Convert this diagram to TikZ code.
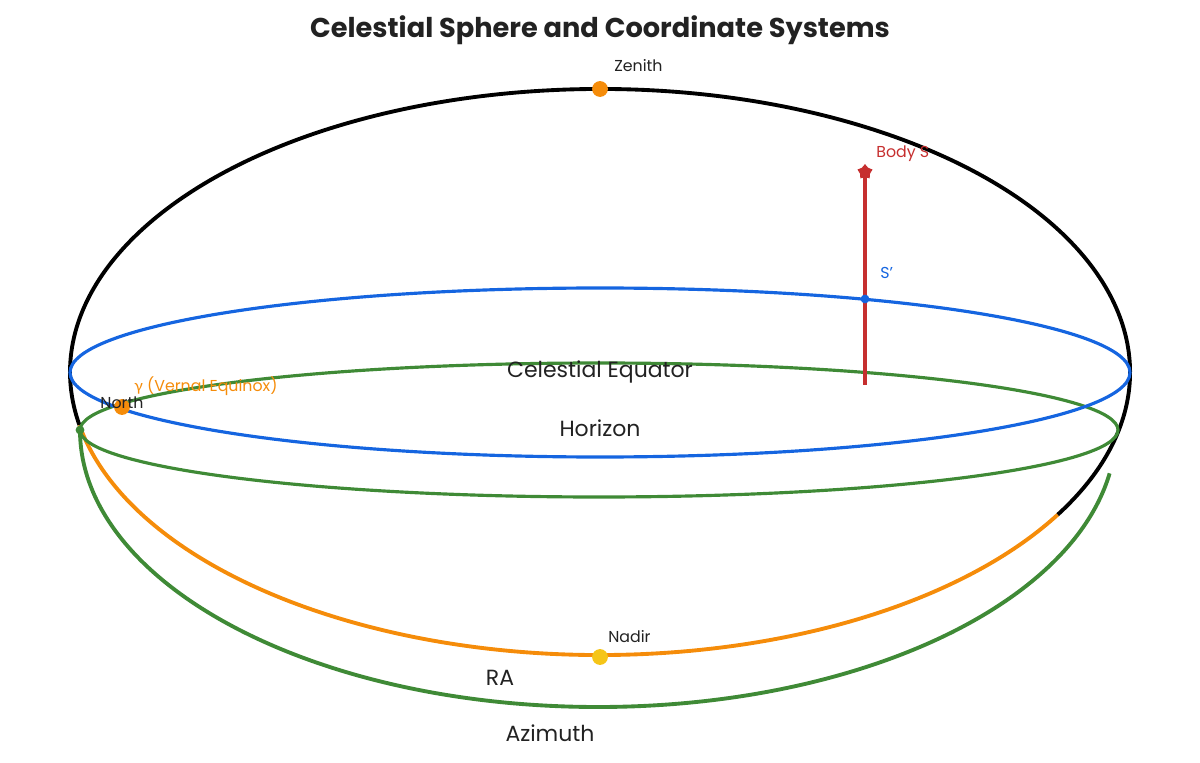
\documentclass[tikz,border=0pt]{standalone}
\usepackage{fontspec}
\setmainfont{Poppins}
\newfontfamily\greekfont{Lato}
\usetikzlibrary{shapes.geometric}
\definecolor{colblue}{HTML}{1565e0}
\definecolor{colgreen}{HTML}{3f8a36}
\definecolor{colorange}{HTML}{f58c0a}
\definecolor{colyellow}{HTML}{f5c518}
\definecolor{colred}{HTML}{c62f2f}
\definecolor{coltext}{HTML}{222222}
\tikzstyle{lbl} = [font=\fontsize{9}{11}\selectfont, text=coltext, inner sep=0pt]
\tikzstyle{big} = [font=\fontsize{12.5}{15}\selectfont, text=coltext, inner sep=0pt]
\tikzstyle{dot} = [circle, inner sep=0pt, minimum size=#1]
\tikzstyle{curve} = [line width=2.2pt]
\begin{document}
\begin{tikzpicture}[x=0.02cm, y=-0.02cm]
    \useasboundingbox (0,0) rectangle (1200,763);
    \node (title) [font=\fontsize{15.5}{18}\bfseries] at (600,30) {\textcolor{coltext}{Celestial Sphere and Coordinate Systems}};

    % sphere outline: upper part black, lower part orange
    \draw [curve, black] (600,372) ++(-30.3:530 and -283) arc [start angle=-30.3, end angle=190.8, x radius=530, y radius=-283];
    \draw [curve, colorange] (600,372) ++(190.8:530 and -283) arc [start angle=190.8, end angle=329.7, x radius=530, y radius=-283];
    % azimuth arc
    \draw [curve, colgreen] (598,430) ++(180:518 and -277) arc [start angle=180, end angle=351, x radius=518, y radius=-277];
    % equator and horizon
    \draw [line width=1.8pt, colgreen] (599,430) ellipse [x radius=519, y radius=67];
    \draw [line width=1.8pt, colblue] (600,372.5) ellipse [x radius=530, y radius=84.5];

    % body and projection
    \coordinate (foot) at (865,385);
    \node (body) [star, star points=5, fill=colred, inner sep=0pt, minimum size=9pt] at (865,172) {};
    \draw [line width=2.6pt, colred] (foot) -- (body.center);
    \node (sp) [dot=5pt, fill=colblue] at (865,299) {};

    \node (zenith) [dot=9pt, fill=colorange] at (600,89) {};
    \node (nadir) [dot=9pt, fill=colyellow] at (600,657) {};
    \node (gamma) [dot=9pt, fill=colorange] at (122,407) {};
    \node (north) [dot=5pt, fill=colgreen] at (80,430) {};

    \node [lbl, anchor=west] at (614,66) {Zenith};
    \node [lbl, anchor=west] at (608,637) {Nadir};
    \node [lbl, anchor=west, text=colred] at (876,154) {Body S};
    \node [lbl, anchor=west, text=colblue] at (880,273) {S'};
    \node [lbl, anchor=west, text=colorange] at (134,386) {{\greekfont γ} (Vernal Equinox)};
    \node [lbl] at (122,403) {North};
    \node [big] at (600,372) {Celestial Equator};
    \node [big] at (600,428) {Horizon};
    \node [big] at (500,678) {RA};
    \node [big] at (550,733) {Azimuth};
\end{tikzpicture}
\end{document}
